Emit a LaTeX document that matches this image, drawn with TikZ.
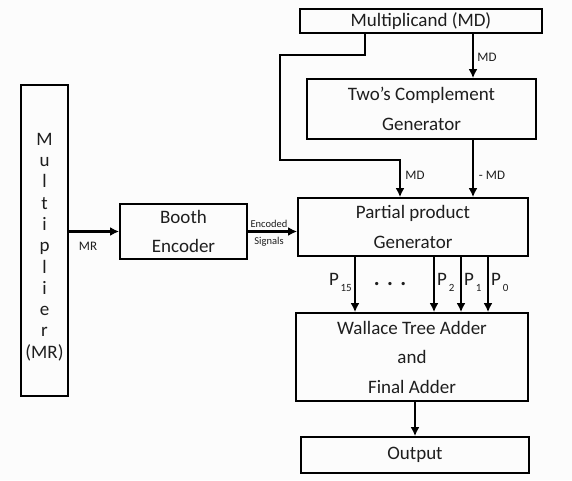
\documentclass[tikz,border=0pt]{standalone}
\usepackage{fontspec}
\setmainfont{Carlito}
\usetikzlibrary{arrows.meta}

\definecolor{bgcol}{RGB}{252,252,252}
\definecolor{txtcol}{RGB}{30,30,30}

\tikzset{
  blk/.style={draw, line width=1.8pt, inner sep=0pt, align=center,
    text=txtcol, font=\fontsize{19}{29.5}\selectfont},
  lbl/.style={text=txtcol, inner sep=0pt, font=\fontsize{13}{14}\selectfont},
  plbl/.style={text=txtcol, inner sep=0pt, font=\fontsize{19}{20}\selectfont},
  flow/.style={->, line width=2.8pt, >={Latex[length=9pt,width=9pt]}},
}
\newcommand{\psub}[1]{P\raisebox{-6pt}{\fontsize{11}{11}\selectfont\,#1}}

\begin{document}
\begin{tikzpicture}[x=1pt,y=-1pt]
        \fill[bgcol] (0,0) rectangle (572,480);
        \useasboundingbox (0,0) rectangle (572,480);
        \node[blk, minimum width=47pt, minimum height=311pt] (mr) at (44.5,240.5) {};
        \node[text=txtcol, inner sep=0pt, align=center,
              font=\fontsize{19}{21.3}\selectfont] (mrtxt) at (44.5,247)
              {M\\u\\l\\t\\i\\p\\l\\i\\e\\r\\(MR)};
        \node[blk, minimum width=242pt, minimum height=24pt] (md)    at (421,21)    {Multiplicand (MD)};
        \node[blk, minimum width=229pt, minimum height=60pt] (twos)  at (421.5,109) {Two's Complement\\Generator};
        \node[blk, minimum width=127pt, minimum height=55pt] (booth) at (183.5,231.5) {Booth\\Encoder};
        \node[blk, minimum width=230pt, minimum height=58pt] (ppg)   at (413,227)   {Partial product\\Generator};
        \node[blk, minimum width=232pt, minimum height=88pt] (wal)   at (412,357)   {Wallace Tree Adder\\and\\Final Adder};
        \node[blk, minimum width=228pt, minimum height=36pt] (out)   at (415,455)   {Output};
        %% bends of the MD line
        \coordinate (mdl)  at (365,55);
        \coordinate (mdb)  at (280,55);
        \coordinate (mdc)  at (280,160);
        \coordinate (mdin) at (400,160);
        \coordinate (mdr)  at (473,0);
        \node[lbl] (mdlbl)  at (487,57)  {MD};
        \node[lbl] (mdlbl2) at (415,175) {MD};
        \node[lbl] (neglbl) at (492,175) {- MD};
        \node[lbl] (mrlbl)  at (88,246)  {MR};
        \node[lbl, font=\fontsize{10.5}{11}\selectfont] (enc) at (269,224) {Encoded};
        \node[lbl, font=\fontsize{10.5}{11}\selectfont] (sig) at (269,242) {Signals};
        \draw[flow] (md.south -| mdr) -- (twos.north -| mdr);
        \draw[flow] (twos.south -| mdr) -- (ppg.north -| mdr);
        \draw[flow] (md.south -| mdl) -- (mdl) -- (mdb) -- (mdc) -- (mdin) -- (ppg.north -| mdin);
        \draw[flow] (mr.east |- booth.west) -- (booth.west);
        \draw[flow] (booth.east) -- (ppg.west |- booth.east);
        %% partial products
        \foreach \x/\n in {355/15, 434/2, 461/1, 488/0} {
          \coordinate (p\n) at (\x,0);
          \draw[flow] (ppg.south -| p\n) -- (wal.north -| p\n);
        }
        \node[plbl, anchor=east] (l15) at (352,282) {\psub{15}};
        \node[plbl, anchor=west] (l2)  at (437,282) {\psub{2}};
        \node[plbl, anchor=west] (l1)  at (464,282) {\psub{1}};
        \node[plbl, anchor=west] (l0)  at (491,282) {\psub{0}};
        \node[plbl, font=\bfseries\fontsize{22}{22}\selectfont] (dots) at (390,284) {.\,\,.\,\,.};
        \draw[flow] (wal.south -| out.north) -- (out.north);
      \end{tikzpicture}
\end{document}
